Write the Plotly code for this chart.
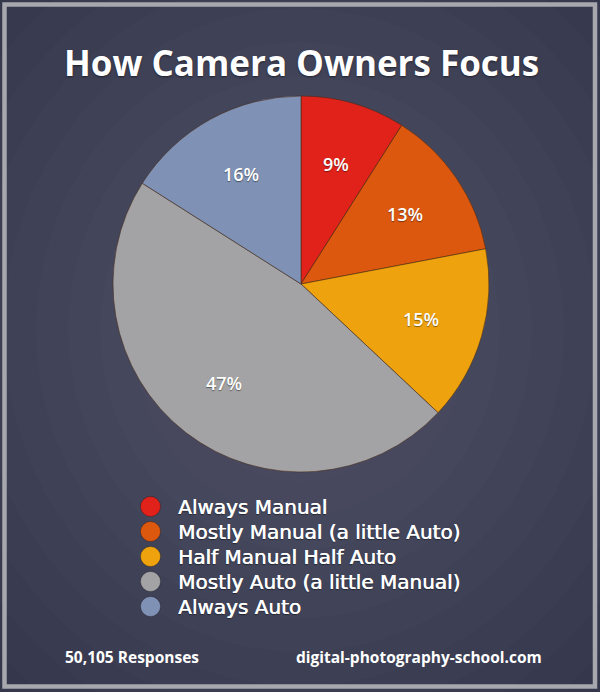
import math
import plotly.graph_objects as go

# ---- data ----
categories = ["Always Manual", "Mostly Manual (a little Auto)", "Half Manual Half Auto",
              "Mostly Auto (a little Manual)", "Always Auto"]
shares = [9, 13, 15, 47, 16]
colors = ["#e0221a", "#db580e", "#eea20e", "#a3a3a5", "#7f91b4"]
title_text = "How Camera Owners Focus"
footer_left = "50,105 Responses"
footer_right = "digital-photography-school.com"

W, H = 600, 692
CX, CY, R = 301, 284, 188  # pie layout (pixels)


def px(x):
    return x / W


def py(y):
    return 1 - y / H


fig = go.Figure()
fig.add_trace(go.Pie(
    labels=categories, values=shares, sort=False, direction="clockwise", rotation=0,
    marker=dict(colors=colors, line=dict(color="rgba(70,40,20,0.55)", width=1)),
    textinfo="none", showlegend=False, hoverinfo="label+percent",
    domain=dict(x=[px(CX - R), px(CX + R)], y=[py(CY + R), py(CY - R)]),
))

annotations = []
# slice labels placed at two thirds of the radius along each slice's bisector
total = sum(shares)
cum = 0
for v in shares:
    mid = (cum + v / 2) / total * 2 * math.pi
    cum += v
    lx = CX + 0.667 * R * math.sin(mid)
    ly = CY - 0.667 * R * math.cos(mid)
    annotations.append(dict(text=f"{v}%", x=px(lx), y=py(ly), xref="paper", yref="paper",
                            xanchor="center", yanchor="middle", showarrow=False,
                            font=dict(family="Open Sans", size=18, color="white", weight=600,
                                      shadow="0px 1px 1px rgba(0,0,0,0.45)")))

shapes = []
# background glow
shapes.append(dict(type="rect", xref="paper", yref="paper", x0=0, y0=0, x1=1, y1=1,
                   fillcolor="#2f3145", line=dict(width=0), layer="below"))
for i in range(14):
    rx = 520 - i * 32
    ry = 560 - i * 34
    shapes.append(dict(type="circle", xref="paper", yref="paper",
                       x0=px(300 - rx), x1=px(300 + rx), y0=py(330 + ry), y1=py(330 - ry),
                       fillcolor="rgba(120,120,140,0.045)", line=dict(width=0), layer="below"))
# frame
shapes.append(dict(type="rect", xref="paper", yref="paper",
                   x0=px(4.5), y0=py(686.5), x1=px(595), y1=py(4.5),
                   line=dict(color="#a7a8ad", width=4.5), fillcolor="rgba(0,0,0,0)", layer="above"))

annotations.append(dict(text="<b>" + title_text + "</b>", x=px(301), y=py(62), xref="paper", yref="paper",
                        xanchor="center", yanchor="middle", showarrow=False,
                        font=dict(family="Open Sans", size=35, color="white",
                                  shadow="0px 1px 2px rgba(0,0,0,0.5)")))

legend_y0, legend_dy = 506.5, 25
for i, (cat, col) in enumerate(zip(categories, colors)):
    cy = legend_y0 + i * legend_dy
    shapes.append(dict(type="circle", xref="paper", yref="paper",
                       x0=px(140.5), x1=px(160.5), y0=py(cy + 10), y1=py(cy - 10),
                       fillcolor=col, line=dict(color="rgba(0,0,0,0.25)", width=1)))
    annotations.append(dict(text=cat, x=px(176), y=py(cy), xref="paper", yref="paper",
                            xanchor="left", yanchor="middle", showarrow=False,
                            font=dict(family="DejaVu Sans", size=20, color="white",
                                      shadow="0.6px 0px 0px #ffffff, 0px 1px 1px rgba(0,0,0,0.5)")))

annotations.append(dict(text="<b>" + footer_left + "</b>", x=px(63), y=py(657), xref="paper", yref="paper",
                        xanchor="left", yanchor="middle", showarrow=False,
                        font=dict(family="Open Sans", size=15.5, color="white")))
annotations.append(dict(text="<b>" + footer_right + "</b>", x=px(544), y=py(657), xref="paper", yref="paper",
                        xanchor="right", yanchor="middle", showarrow=False,
                        font=dict(family="Open Sans", size=15.5, color="white")))

fig.update_layout(width=W, height=H, margin=dict(l=0, r=0, t=0, b=0),
                  paper_bgcolor="#2f3145", plot_bgcolor="rgba(0,0,0,0)",
                  shapes=shapes, annotations=annotations)
fig.write_html("out.html", config={"displayModeBar": False},
               post_script="document.body.style.margin='0';document.body.style.overflow='hidden';")
